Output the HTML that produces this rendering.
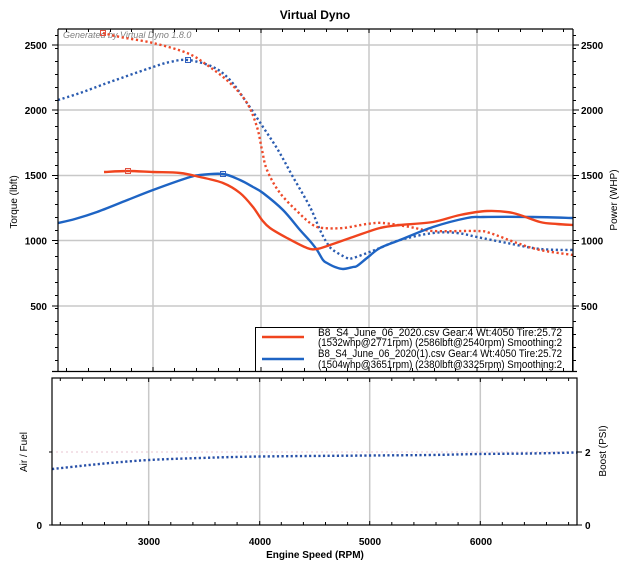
<!DOCTYPE html>
<html><head><meta charset="utf-8"><style>
html,body{margin:0;padding:0;background:#fff;}
svg{display:block;}
text{font-family:"Liberation Sans",Arial,sans-serif;fill:#000;}
.t{font-size:10px;font-weight:bold;}
</style></head><body>
<svg id="chart" width="628" height="567" viewBox="0 0 628 567" xmlns="http://www.w3.org/2000/svg">
<rect width="628" height="567" fill="#fff"/>
<text x="315" y="19" text-anchor="middle" style="font-size:12px;font-weight:bold">Virtual Dyno</text>

<g stroke="#c8c8c8" stroke-width="1.5">
<line x1="58" y1="45" x2="573" y2="45"/>
<line x1="58" y1="110" x2="573" y2="110"/>
<line x1="58" y1="175.5" x2="573" y2="175.5"/>
<line x1="58" y1="240.5" x2="573" y2="240.5"/>
<line x1="58" y1="306" x2="573" y2="306"/>
<line x1="153" y1="29" x2="153" y2="371"/>
<line x1="261" y1="29" x2="261" y2="371"/>
<line x1="369" y1="29" x2="369" y2="371"/>
<line x1="477" y1="29" x2="477" y2="371"/>
</g>
<text x="63" y="38" style="font-size:9px;font-style:italic;fill:#808080">Generated by Virtual Dyno 1.8.0</text>

<g fill="none" stroke-linejoin="round">
<polyline class="sm" stroke="#2b5cb0" stroke-width="2.4" stroke-dasharray="2.2 2.6" points="58,100 80,93 110,82 153,67 170,62 188,60 213,67 230,80 247,103 263,127 278,150 293,177 310,207 320,230 327,243 333,250 347,258 353,258 367,253 380,248 400,240 433,233 457,233 477,237 507,243 540,249 573,250"/>
<polyline class="sm" stroke="#ee4a2a" stroke-width="2.4" stroke-dasharray="2.2 2.6" points="103,33 120,37 153,43 187,53 207,65 230,83 247,103 257,127 262,150 267,170 280,193 300,214 313,225 323,228 343,228 367,224 383,223 410,227 433,231 477,231 490,233 517,243 540,250 573,255"/>
<polyline class="sm" stroke="#1e64c4" stroke-width="2.4" points="58,223 75,219 97,212 125,201 153,190 187,178 200,175 223,174 240,180 253,187 263,193 283,210 300,230 310,241 317,250 323,260 327,263 335,267 343,269 353,267 357,266 367,258 380,248 400,240 433,227 467,218 483,217 533,217 573,218"/>
<polyline class="sm" stroke="#f0441e" stroke-width="2.4" points="104,172 128,171 153,172 180,173 200,177 223,183 240,193 253,207 262,220 270,228 287,238 307,248 317,249 330,245 353,237 380,228 400,225 433,222 460,215 487,211 513,213 540,222 557,224 573,225"/>
</g>
<g fill="none" stroke-width="1">
<rect x="100.5" y="30.5" width="5" height="5" stroke="#e05040"/>
<rect x="125.5" y="168.5" width="5" height="5" stroke="#e05040"/>
<rect x="185.5" y="57.5" width="5" height="5" stroke="#3060c0"/>
<rect x="220.5" y="171.5" width="5" height="5" stroke="#3060c0"/>
</g>

<rect x="255.5" y="327.5" width="317" height="44" fill="#fff" stroke="#000" stroke-width="1"/>
<line x1="262" y1="337" x2="304" y2="337" stroke="#f0441e" stroke-width="2.4"/>
<line x1="262" y1="359" x2="304" y2="359" stroke="#1e64c4" stroke-width="2.4"/>
<g style="font-size:11px">
<text x="318" y="336" textLength="244" lengthAdjust="spacingAndGlyphs">B8_S4_June_06_2020.csv Gear:4 Wt:4050 Tire:25.72</text>
<text x="318" y="346" textLength="244" lengthAdjust="spacingAndGlyphs">(1532whp@2771rpm) (2586lbft@2540rpm) Smoothing:2</text>
<text x="318" y="357" textLength="244" lengthAdjust="spacingAndGlyphs">B8_S4_June_06_2020(1).csv Gear:4 Wt:4050 Tire:25.72</text>
<text x="318" y="368" textLength="244" lengthAdjust="spacingAndGlyphs">(1504whp@3651rpm) (2380lbft@3325rpm) Smoothing:2</text>
</g>

<g stroke="#000" stroke-width="1.2" fill="none">
<line x1="58" y1="29" x2="573" y2="29"/>
<line x1="58" y1="29" x2="58" y2="372"/>
<line x1="573" y1="29" x2="573" y2="372"/>
<line x1="52" y1="371.5" x2="577" y2="371.5"/>
</g>
<g stroke="#000" stroke-width="1">
<path d="M55,35.5h3M55,48.5h3M55,61.5h3M55,74.5h3M55,87.5h3M55,100.5h3M55,113.5h3M55,126.5h3M55,139.5h3M55,152.5h3M55,165.5h3M55,178.5h3M55,191.5h3M55,204.5h3M55,217.5h3M55,230.5h3M55,243.5h3M55,256.5h3M55,269.5h3M55,282.5h3M55,295.5h3M55,308.5h3M55,321.5h3M55,334.5h3M55,347.5h3M55,360.5h3"/>
<path d="M52,45h6M52,110h6M52,175.5h6M52,240.5h6M52,306h6"/>
<path d="M573,35.5h3M573,48.5h3M573,61.5h3M573,74.5h3M573,87.5h3M573,100.5h3M573,113.5h3M573,126.5h3M573,139.5h3M573,152.5h3M573,165.5h3M573,178.5h3M573,191.5h3M573,204.5h3M573,217.5h3M573,230.5h3M573,243.5h3M573,256.5h3M573,269.5h3M573,282.5h3M573,295.5h3M573,308.5h3M573,321.5h3M573,334.5h3M573,347.5h3M573,360.5h3"/>
<path d="M573,45h6M573,110h6M573,175.5h6M573,240.5h6M573,306h6"/>
<path d="M66.5,29v3M88.5,29v3M110.5,29v3M131.5,29v3M153,29v4M174.5,29v3M196.5,29v3M218.5,29v3M239.5,29v3M261,29v4M282.5,29v3M304.5,29v3M326.5,29v3M347.5,29v3M369,29v4M390.5,29v3M412.5,29v3M434.5,29v3M455.5,29v3M477,29v4M498.5,29v3M520.5,29v3M542.5,29v3M563.5,29v3"/>
<path d="M66.5,371v-3M88.5,371v-3M110.5,371v-3M131.5,371v-3M153,371v-4M174.5,371v-3M196.5,371v-3M218.5,371v-3M239.5,371v-3M261,371v-4M282.5,371v-3M304.5,371v-3M326.5,371v-3M347.5,371v-3M369,371v-4M390.5,371v-3M412.5,371v-3M434.5,371v-3M455.5,371v-3M477,371v-4M498.5,371v-3M520.5,371v-3M542.5,371v-3M563.5,371v-3"/>
</g>
<g>
<text x="47" y="49" text-anchor="end" class="t">2500</text>
<text x="47" y="114" text-anchor="end" class="t">2000</text>
<text x="47" y="179" text-anchor="end" class="t">1500</text>
<text x="47" y="244.5" text-anchor="end" class="t">1000</text>
<text x="47" y="310" text-anchor="end" class="t">500</text>
<text x="581" y="49" class="t">2500</text>
<text x="581" y="114" class="t">2000</text>
<text x="581" y="179" class="t">1500</text>
<text x="581" y="244.5" class="t">1000</text>
<text x="581" y="310" class="t">500</text>
</g>
<text transform="translate(17,202) rotate(-90)" text-anchor="middle" style="font-size:10px">Torque (lbft)</text>
<text transform="translate(617,200) rotate(-90)" text-anchor="middle" style="font-size:10px">Power (WHP)</text>

<g stroke="#c8c8c8" stroke-width="1.5">
<line x1="148.7" y1="378" x2="148.7" y2="525"/>
<line x1="259.7" y1="378" x2="259.7" y2="525"/>
<line x1="369.7" y1="378" x2="369.7" y2="525"/>
<line x1="480.3" y1="378" x2="480.3" y2="525"/>
</g>
<line x1="56" y1="452" x2="577" y2="452" stroke="#f0d8e0" stroke-width="1.5" stroke-dasharray="2 3"/>
<polyline class="sm" fill="none" stroke="#2850a8" stroke-width="2.4" stroke-dasharray="2.2 2.4" points="52,469 80,466 110,463 149,460 200,458 260,456.5 370,455.5 430,455 480,454 530,453.5 577,452.5"/>
<g stroke="#000" stroke-width="1.2" fill="none">
<rect x="52" y="378" width="525" height="147"/>
</g>
<g stroke="#000" stroke-width="1">
<path d="M49,452h3M577,452h5M49,525h3M577,525h5"/>
<path d="M60.3,378v3M82.4,378v3M104.5,378v3M126.6,378v3M148.7,378v4M170.8,378v3M192.9,378v3M215,378v3M237.1,378v3M259.7,378v4M281.3,378v3M303.4,378v3M325.5,378v3M347.6,378v3M369.7,378v4M391.8,378v3M413.9,378v3M436,378v3M458.1,378v3M480.3,378v4M502.3,378v3M524.4,378v3M546.5,378v3M568.6,378v3"/>
<path d="M60.3,525v-3M82.4,525v-3M104.5,525v-3M126.6,525v-3M148.7,525v-4M170.8,525v-3M192.9,525v-3M215,525v-3M237.1,525v-3M259.7,525v-4M281.3,525v-3M303.4,525v-3M325.5,525v-3M347.6,525v-3M369.7,525v-4M391.8,525v-3M413.9,525v-3M436,525v-3M458.1,525v-3M480.3,525v-4M502.3,525v-3M524.4,525v-3M546.5,525v-3M568.6,525v-3"/>
</g>
<text x="42" y="529" text-anchor="end" class="t">0</text>
<text x="585" y="456" class="t">2</text>
<text x="585" y="529" class="t">0</text>
<text x="149" y="545" text-anchor="middle" class="t">3000</text>
<text x="260" y="545" text-anchor="middle" class="t">4000</text>
<text x="370" y="545" text-anchor="middle" class="t">5000</text>
<text x="481" y="545" text-anchor="middle" class="t">6000</text>
<text x="315" y="558" text-anchor="middle" style="font-size:10px;font-weight:bold">Engine Speed (RPM)</text>
<text transform="translate(27,452) rotate(-90)" text-anchor="middle" style="font-size:10px">Air / Fuel</text>
<text transform="translate(606,451) rotate(-90)" text-anchor="middle" style="font-size:10px">Boost (PSI)</text>
</svg>
<script>
(function(){
  var NS="http://www.w3.org/2000/svg";
  var pls=document.querySelectorAll("polyline.sm");
  for(var i=0;i<pls.length;i++){
    var pl=pls[i];
    var raw=pl.getAttribute("points").trim().split(/\s+/);
    var p=[];
    for(var j=0;j<raw.length;j++){var c=raw[j].split(",");p.push([+c[0],+c[1]]);}
    var d="M"+p[0][0]+","+p[0][1];
    for(var k=0;k<p.length-1;k++){
      var p0=p[k>0?k-1:k],p1=p[k],p2=p[k+1],p3=p[k+2<p.length?k+2:k+1];
      var c1x=p1[0]+(p2[0]-p0[0])/6,c1y=p1[1]+(p2[1]-p0[1])/6;
      var c2x=p2[0]-(p3[0]-p1[0])/6,c2y=p2[1]-(p3[1]-p1[1])/6;
      d+=" C"+c1x.toFixed(2)+","+c1y.toFixed(2)+" "+c2x.toFixed(2)+","+c2y.toFixed(2)+" "+p2[0]+","+p2[1];
    }
    var path=document.createElementNS(NS,"path");
    var attrs=pl.attributes;
    for(var a=0;a<attrs.length;a++){
      var n=attrs[a].name;
      if(n!=="points"&&n!=="class")path.setAttribute(n,attrs[a].value);
    }
    path.setAttribute("d",d);
    pl.parentNode.replaceChild(path,pl);
  }
})();
</script>
</body></html>
